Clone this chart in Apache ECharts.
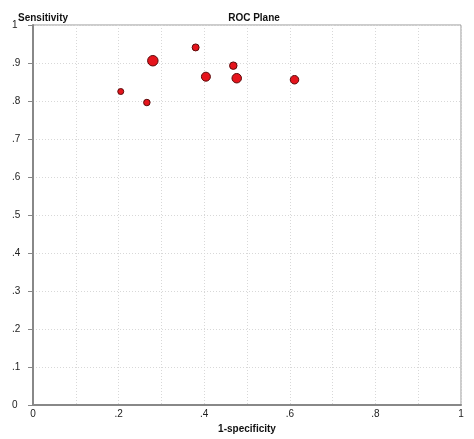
<!DOCTYPE html>
<html><head><meta charset="utf-8">
<script src="https://cdn.jsdelivr.net/npm/echarts@6/dist/echarts.min.js"></script>
<style>html,body{margin:0;padding:0;background:#fff}#c{width:474px;height:439px}</style>
</head><body><div id="c"></div>
<script>
var fpr = [0.280, 0.380, 0.205, 0.266, 0.404, 0.468, 0.476, 0.611];
var sens = [0.906, 0.941, 0.825, 0.796, 0.864, 0.893, 0.860, 0.856];
var weight = [10.5, 7, 6, 6.5, 9, 7.5, 9.5, 8.5];
var titleText = 'ROC Plane';
var yName = 'Sensitivity';
var xName = '1-specificity';

function fmt(v){
  var r = Math.round(v*10)/10;
  if (r === 0) return '0';
  if (r === 1) return '1';
  return String(r).replace('0.', '.');
}
var pts = fpr.map(function(x,i){return [x, sens[i], weight[i]];});
var chart = echarts.init(document.getElementById('c'));
var font = 'Liberation Sans, Arial, sans-serif';
chart.setOption({
  animation:false,
  title:[
    {text:yName, left:13, top:8, textStyle:{fontFamily:font,fontSize:10,fontWeight:'bold',color:'#111'}},
    {text:titleText, left:249, textAlign:'center', top:8, textStyle:{fontFamily:font,fontSize:10,fontWeight:'bold',color:'#111'}}
  ],
  grid:{left:33, right:13, top:25, bottom:33, show:true, borderColor:'#999', borderWidth:1},
  xAxis:{type:'value', min:0, max:1, interval:0.1,
    name:xName, nameLocation:'middle', nameGap:17,
    nameTextStyle:{fontFamily:font,fontSize:10,fontWeight:'bold',color:'#111'},
    axisLine:{show:true, onZero:false, lineStyle:{color:'#888', width:2}},
    axisTick:{show:false},
    axisLabel:{fontFamily:font,fontSize:10,color:'#222',margin:4,
      formatter:function(v){var r=Math.round(v*10); return r%2===0?fmt(v):'';}},
    splitLine:{show:true, lineStyle:{color:'#d8d8d8', type:[1,2], width:1}}
  },
  yAxis:{type:'value', min:0, max:1, interval:0.1,
    axisLine:{show:true, onZero:false, lineStyle:{color:'#888', width:2}},
    axisTick:{show:true, length:5, lineStyle:{color:'#888'}},
    axisLabel:{fontFamily:font,fontSize:10,color:'#222',margin:21,align:'left',formatter:fmt},
    splitLine:{show:true, lineStyle:{color:'#d8d8d8', type:[1,2], width:1}}
  },
  series:[{type:'scatter', data:pts,
    symbolSize:function(d){return d[2];},
    itemStyle:{color:'#e5141c', borderColor:'#5a0a0a', borderWidth:1, opacity:1}
  }]
});
</script></body></html>
